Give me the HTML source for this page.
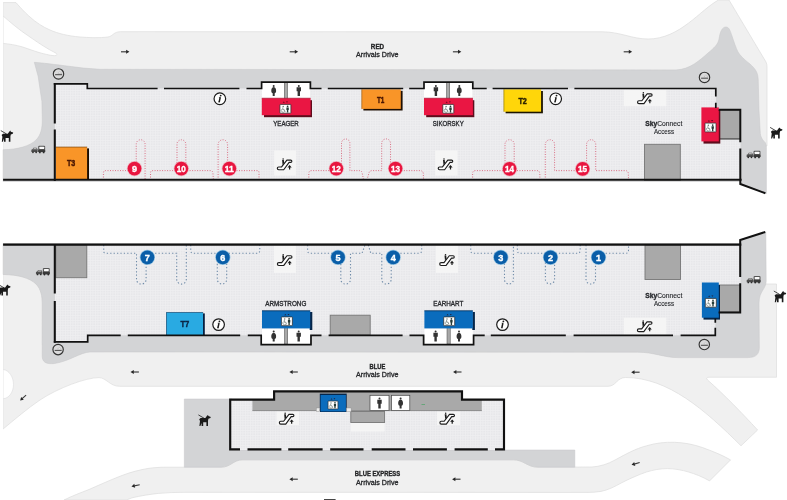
<!DOCTYPE html>
<html><head><meta charset="utf-8"><title>Baggage Claim Map</title>
<style>
html,body{margin:0;padding:0;background:#fff;}
body{width:787px;height:500px;overflow:hidden;}
svg{display:block;}
text{font-family:"Liberation Sans",sans-serif;}
text{filter:brightness(1);}
.b{font-weight:bold;}
</style></head><body>
<svg width="787" height="500" viewBox="0 0 787 500">
<defs>
<pattern id="grid" width="2.5" height="2.5" patternUnits="userSpaceOnUse">
<rect width="2.5" height="2.5" fill="#e7e7ea"/>
<path d="M0,0.45H2.5M0.45,0V2.5" stroke="#eeeef0" stroke-width="0.9" fill="none"/>
</pattern>
<g id="esc">
<path d="M-6,2.05H-3.1L2.2,-4.85H6A1.15,1.15 0 0 1 6,-2.55H4.4L-1,4.85H-6A1.4,1.4 0 0 1 -6,2.05Z" fill="#fff" stroke="#1c1c1c" stroke-width="1.15" stroke-linejoin="round"/>
<circle cx="-1.6" cy="-5.9" r="0.75" fill="#1c1c1c"/>
<path d="M-2.6,-5H-0.9L-0.5,-1.9L-2.1,0Z" fill="#1c1c1c"/>
<path d="M4.9,0.2L2.8,2.6H4.3V4.5H5.5V2.6H7Z" fill="#1c1c1c"/>
</g>
<g id="info">
<circle r="5.8" fill="#fff" stroke="#1a1a1a" stroke-width="1.2"/>
<circle cx="0.85" cy="-3.2" r="0.9" fill="#1a1a1a"/>
<path d="M0.4,-1.5L-0.7,3.4" stroke="#1a1a1a" stroke-width="1.5" stroke-linecap="butt"/>
<path d="M-0.9,-1.4H0.6M-1.6,3.3H0" stroke="#1a1a1a" stroke-width="0.55"/>
</g>
<g id="nosmoke">
<circle r="5.2" fill="#dadadb" stroke="#333" stroke-width="1.15"/>
<path d="M-3.4,0.8H3.6" stroke="#2e2e2e" stroke-width="0.85"/>
<path d="M-0.5,-0.4L1.2,-2.4L3.4,-0.4Z" fill="#eee" stroke="#999" stroke-width="0.35"/>
</g>
<g id="man">
<circle cx="0" cy="-4.6" r="1" fill="#333"/>
<path d="M-2.2,-3.3H2.2V0.7H1.2V5.5H-1.2V0.7H-2.2Z" fill="#333"/>
</g>
<g id="woman">
<circle cx="0" cy="-4.6" r="1" fill="#333"/>
<path d="M0,-3.4C2,-3.4 2.5,-1 2.4,0.8C2.3,2 1.6,2.8 1,2.8V5.5H-1V2.8C-1.6,2.8 -2.3,2 -2.4,0.8C-2.5,-1 -2,-3.4 0,-3.4Z" fill="#333"/>
</g>
<g id="elev">
<rect x="-5.5" y="-4.4" width="11" height="8.8" rx="0.5" fill="#fff" stroke="#2e2e2e" stroke-width="0.75"/>
<circle cx="2.2" cy="-2.4" r="0.85" fill="#263c38"/>
<path d="M1,-1.3H3.4V1.3H2.9V3.7H1.5V1.3H1Z" fill="#263c38"/>
<circle cx="-2.2" cy="-2.3" r="0.7" fill="#5d6d68"/>
<path d="M-2.6,-1.3V0.9H-1.1L-0.3,3.2" stroke="#5d6d68" stroke-width="0.7" fill="none"/>
<path d="M-3.6,0.4A1.8,1.8 0 1 0 -0.9,2.9" stroke="#5d6d68" stroke-width="0.6" fill="none"/>
<path d="M-2.6,-6L-1.6,-7.4L-0.6,-6Z M0.6,-7.4L1.6,-6L2.6,-7.4Z" fill="#2a0a10" opacity="0.8"/>
</g>
<g id="dog">
<path d="M-6.4,-5.6L-0.6,-2.2" stroke="#1a1a1a" stroke-width="0.8" fill="none"/>
<path d="M-5.6,-1.2L-4.2,-2.4H0.6L2.2,-4.8L3.2,-5.6L3.6,-4.4L6,-3.6L5.6,-2.4L3.6,-1.8L3.2,0.2V5.6H1.6V1.8H-1.6V5.6H-3.2V2.4L-4.4,5.6H-5.4L-4.8,0.6Z" fill="#1a1a1a"/>
</g>
<g id="car">
<path d="M-6.9,2.6V0.3L-5.7,-0.2L-4.7,-1.7H-1.7L-0.6,-0.2V2.6Z" fill="#4d4d4d"/>
<path d="M-4.4,-1.1H-2L-1.3,-0.1H-5.1Z" fill="#d8d8d8"/>
<path d="M0,2.7V-2.6Q0,-3.7 1.1,-3.7H5.8Q6.9,-3.7 6.9,-2.6V2.7Z" fill="#555"/>
<rect x="1.1" y="-2.7" width="4.8" height="2.3" rx="0.6" fill="#fafafa"/>
<path d="M0,0.4H6.9V2.7H0Z" fill="#3a3a3a"/>
<circle cx="-5.3" cy="2.9" r="0.85" fill="#2a2a2a"/><circle cx="-2.1" cy="2.9" r="0.85" fill="#2a2a2a"/>
<circle cx="1.6" cy="3" r="0.9" fill="#2a2a2a"/><circle cx="5.4" cy="3" r="0.9" fill="#2a2a2a"/>
</g>
<g id="arrL"><path d="M4.2,0H-1.4" stroke="#3a3a3a" stroke-width="1.15" fill="none"/><path d="M-4.2,0L-0.9,-2.05V2.05Z" fill="#262626"/></g>
</defs>

<g fill="#f0f0f0" stroke="#dcdcdd" stroke-width="0.7">
<path d="M3.1,2.6L16,2.6C22,9.5 26,13.5 30,17C36,22.5 43,27 50,30C58,33.5 68,36 80,37C88,37.6 100,38.2 108,37C113,36.2 113.5,31.7 120.5,31.7L602,31.8C620,31.8 632,39 648,39C680,39 700,10 718.5,0L729,0L766,62Q767,64 767,67L767,146L700,146L700,75L60,75L60,155L3.1,155Z"/>
<path d="M3.1,429C14,420 28,408 40,400C58,388 86,377.5 99,377.6C106,377.6 110,386.3 119.4,386.3L608,386.3C616,386.3 617,377.5 625.5,377.5C668,377.5 705,410 741,445.8L757.6,430C742,413 724,394.5 707.6,380Q705.2,377.4 709,377.2L776.5,377.2L776.5,284L764,284Q758.5,290 758.5,304L758.5,345L42.3,345L42.3,304C42.3,296 41,289 36,284C30,278 18,274.5 3.1,274.5Z"/>
<path d="M64,500C72,496 80,493 89,489.5C98,485.5 106,482 115.6,478C124,474.5 133,471.5 142,469.6C150,467.8 158,467.2 166,467.2L221,467.2C231,467.2 233,459.8 243,459.8L513,459.8C524,459.8 527,467.2 538,467.2L592,467C600,466.5 608,464 615,460C626,454 636,448.5 646.5,445.8C656,443 665,442 674.6,442.3C684,442.6 694,444.5 702.6,447.6C712,451 722,455 730.6,459.9L709.6,480.9C702,476.5 695,474 688.6,472C682,470 674,468.6 667.6,468.6C660,468.6 653,470 646.5,472C638,475 630,478.5 622,482.6C614,487 608,490 601,491.4C596,492.2 592,492.4 587,492.4L185,492.3C176,492.3 167,492.6 158.6,493.4C150,494.2 140,496 132,497.8L126.5,500Z"/>
</g>
<path d="M3.1,16C10,22 20,30.5 27.1,35C33,39.1 42,45.5 49.5,49.7C52,51 55,52.6 56.3,53.4Q58,54.6 56,55.5C53,56.2 45,54.2 39,52.5C33,50.6 27,48.5 22,46.8C16,45 9,44 3.1,43.4Z" fill="#fff" stroke="#dcdcdd" stroke-width="0.7"/>
<path d="M3.1,369.5C9,370 13.5,377 13.5,384.5C13.5,392 9,398.5 3.1,398.7Z" fill="#fff" stroke="#dcdcdd" stroke-width="0.6"/>
<rect x="0" y="0" width="3.1" height="500" fill="#fff"/>
<g fill="#d3d4d6" stroke="#c6c7c9" stroke-width="0.5">
<path d="M34.3,62.3C45,63 70,66.5 83.9,68.1L100,69.3L676,69.9C690,69.5 700,60 708,53C714,48 718,44.5 719,39C720,32 722,27 726,27C729.5,27 730.5,32 732,36C734,42 736,48 738,52C742,58 747,61.5 750,64C755,68.5 757.8,72 758.2,79L759,110L760.3,133.5C761,139 764,141 765.2,142.5C766,144 766.4,145.5 766.4,147.5L766.4,193.6L740.3,184L740.3,181.5L3.1,181.5L3.1,149.7C18,149.5 30,146 36,140C41,135 42.3,128 42.3,120L41.9,101.6L38.1,76.2Z"/>
<path d="M3.1,243.5L740.1,243.5L740.1,240L765.8,231.7L766.2,281C766.2,289 759,291 759,303L759.3,346C759.8,354 756,357.6 748,357.6L678,357.6C664,357.6 654,352.2 637.6,352.2L90,352C80,352.5 70,361 54.6,363.5C46,364.5 42.2,362 42.2,356L42.3,304C42.3,296 41,289 36,284C30,278 18,274.5 3.1,274.5Z"/>
<path d="M184.3,399H232V450H574.8V467.2H538C527,467.2 524,459.8 513,459.8H243C233,459.8 231,467.2 221,467.2H184.3Z"/>
</g>
<g fill="url(#grid)">
<path d="M55,84H87.3V88.5H715.8V109H740.5V181H55Z"/>
<path d="M55,244H740.5V313H715.3V335.3H87.7V341.8H55Z"/>
<path d="M230,399H273.8V391.3H462V399.6H504V449.5H230Z"/>
</g>
<g fill="#f5f5f5">
<rect x="274.2" y="150.5" width="22" height="25"/>
<rect x="435.2" y="150.5" width="22.3" height="25"/>
<rect x="623.8" y="89.8" width="42.6" height="16.5"/>
<rect x="274" y="245.5" width="22" height="27.4"/>
<rect x="436" y="245.5" width="22" height="27.4"/>
<rect x="623.8" y="317.7" width="42.6" height="17"/>
<rect x="437" y="411.5" width="23" height="13.5"/>
<rect x="276.5" y="411.5" width="22.5" height="13.5"/>
<rect x="350.8" y="422.5" width="33.8" height="9"/>
</g>
<rect x="644.5" y="144.3" width="35.8" height="36" fill="#a9a9a9" stroke="#777" stroke-width="0.9"/>
<rect x="719" y="110" width="21.5" height="28.8" fill="#a9a9a9" stroke="#777" stroke-width="0.9"/>
<path d="M719,139H741" stroke="#333" stroke-width="0.8"/>
<rect x="55.8" y="245" width="31" height="32.7" fill="#a9a9a9" stroke="#777" stroke-width="0.9"/>
<rect x="645" y="245" width="35.5" height="34.5" fill="#a9a9a9" stroke="#777" stroke-width="0.9"/>
<rect x="718.6" y="285" width="21.6" height="27" fill="#a9a9a9" stroke="#777" stroke-width="0.9"/>
<rect x="330.2" y="315.2" width="40" height="19.7" fill="#a9a9a9" stroke="#777" stroke-width="0.9"/>
<path d="M252.4,400H273.8V392H462V400H481.8V410.6H252.4Z" fill="#a9a9a9"/>
<path d="M252.4,410.6H481.8" stroke="#777" stroke-width="0.8"/>
<rect x="350.8" y="411.5" width="33.8" height="11" fill="#a9a9a9" stroke="#777" stroke-width="0.9"/>
<rect x="87" y="148.4" width="2" height="31.5" fill="#1a0d02"/>
<rect x="55.8" y="146.9" width="31.3" height="33" fill="#f99528"/>
<path d="M55.8,147.1H87.2" stroke="#6a3f10" stroke-width="0.6"/>
<rect x="363.4" y="90.8" width="39.2" height="19.7" fill="#1f0f03"/>
<rect x="361.6" y="89.3" width="39.2" height="19.6" fill="#f99528"/>
<path d="M361.8,89.3V108.9" stroke="#7a4a12" stroke-width="0.5"/>
<rect x="505.6" y="91" width="37.3" height="22.3" fill="#1c1500"/>
<rect x="503.7" y="89.3" width="37.4" height="22.4" fill="#ffd60a"/>
<path d="M503.9,89.3V111.7" stroke="#6a5800" stroke-width="0.5"/>
<rect x="168" y="313.4" width="36.8" height="21.6" fill="#082040"/>
<rect x="166.3" y="312.4" width="36.7" height="22.6" fill="#29aae2"/>
<path d="M166.3,312.5H203.2M166.5,312.4V335" stroke="#0d3a63" stroke-width="0.6"/>
<rect x="261.8" y="82.6" width="48.19999999999999" height="15.6" fill="#fff"/>
<rect x="284.29999999999995" y="82.6" width="3.2" height="17.5" fill="#a8a8a8" stroke="#444" stroke-width="0.5"/>
<rect x="264.0" y="100.2" width="47.999999999999986" height="17" fill="#5e0c1c"/>
<rect x="261.8" y="98.2" width="48.79999999999999" height="17" fill="#ea1643"/>
<path d="M261.8,98.2H310.6" stroke="#9a1a30" stroke-width="0.6"/>
<use href="#woman" x="273.7" y="90.5"/>
<use href="#man" x="298.8" y="90.5"/>
<use href="#elev" x="285.4" y="108.8"/>
<rect x="424" y="82.6" width="48.30000000000001" height="15.6" fill="#fff"/>
<rect x="446.54999999999995" y="82.6" width="3.2" height="17.5" fill="#a8a8a8" stroke="#444" stroke-width="0.5"/>
<rect x="426.2" y="100.2" width="48.10000000000001" height="17" fill="#5e0c1c"/>
<rect x="424" y="98.2" width="48.90000000000001" height="17" fill="#ea1643"/>
<path d="M424,98.2H472.90000000000003" stroke="#9a1a30" stroke-width="0.6"/>
<use href="#man" x="435.9" y="90.5"/>
<use href="#woman" x="459.3" y="90.5"/>
<use href="#elev" x="448.3" y="108.8"/>
<rect x="262" y="328.4" width="48.19999999999999" height="16" fill="#fff"/>
<rect x="284.5" y="325.5" width="3.2" height="18.6" fill="#a8a8a8" stroke="#444" stroke-width="0.5"/>
<rect x="309.7" y="312" width="2.6" height="18" fill="#06264a"/>
<rect x="262" y="310.6" width="48.19999999999999" height="17.8" fill="#0a6cbd"/>
<path d="M262,310.8H310.2" stroke="#06264a" stroke-width="0.7"/>
<use href="#woman" x="273.7" y="336.1"/>
<use href="#man" x="298.7" y="336.1"/>
<use href="#elev" x="286.9" y="321.3"/>
<rect x="424.4" y="328.4" width="48.400000000000034" height="16" fill="#fff"/>
<rect x="447.0" y="325.5" width="3.2" height="18.6" fill="#a8a8a8" stroke="#444" stroke-width="0.5"/>
<rect x="472.3" y="312" width="2.6" height="18" fill="#06264a"/>
<rect x="424.4" y="310.6" width="48.400000000000034" height="17.8" fill="#0a6cbd"/>
<path d="M424.4,310.8H472.8" stroke="#06264a" stroke-width="0.7"/>
<use href="#man" x="435.6" y="336.1"/>
<use href="#woman" x="459" y="336.1"/>
<use href="#elev" x="449.2" y="321.3"/>
<rect x="703.5" y="110" width="16.8" height="33.6" fill="#5e0c1c"/>
<rect x="701.4" y="107.4" width="17.4" height="34" fill="#ea1643"/>
<use href="#elev" x="710.5" y="127.5"/>
<rect x="703.5" y="285" width="16.5" height="34.6" fill="#06264a"/>
<rect x="701.9" y="282.5" width="16.9" height="35.2" fill="#0a6cbd"/>
<use href="#elev" x="710.8" y="302.8"/>
<rect x="319.8" y="393.6" width="26.9" height="18.4" fill="#06264a"/>
<rect x="320.6" y="395" width="25.3" height="16.4" fill="#0a6cbd"/>
<rect x="316.3" y="408" width="3.4" height="3.6" fill="#eee" stroke="#8a8a8a" stroke-width="0.4"/>
<rect x="346.5" y="408" width="4.6" height="3.6" fill="#eee" stroke="#8a8a8a" stroke-width="0.4"/>
<g transform="translate(333,405) scale(0.9)"><use href="#elev"/></g>
<rect x="370" y="395.3" width="19" height="15.3" fill="#fff" stroke="#444" stroke-width="0.7"/>
<rect x="391.5" y="395.3" width="18.3" height="15.3" fill="#fff" stroke="#444" stroke-width="0.7"/>
<use href="#man" x="379.5" y="403"/>
<use href="#woman" x="400.6" y="403"/>
<path d="M421.5,404.5H425" stroke="#3aa35a" stroke-width="0.6"/>
<g fill="none" stroke="#d4506a" stroke-width="1" stroke-dasharray="1 1.5" stroke-opacity="0.8">
<path d="M103.4,180V173Q103.4,170.6 105.8,170.6H136.2V144.2A4.45,4.45 0 0 1 145.1,144.2V180"/>
<path d="M150.5,180V173Q150.5,170.6 152.9,170.6H177V144.2A4.4,4.4 0 0 1 185.8,144.2V170.6H210.4Q212.6,170.6 212.9,172.8L213.4,180"/>
<path d="M218.1,180V144.5A4.75,4.75 0 0 1 227.6,144.5V170.6H257Q259,170.6 259,172.7V180"/>
<path d="M308.8,180V173.6Q308.8,170.6 311.8,170.6H341.5V143.2A4.2,4.2 0 0 1 349.9,143.2V170.6H359.5Q361.6,170.6 362.2,173L363.6,180"/>
<path d="M367,180L368.8,173.4Q369.6,170.6 372,170.6H381.7V143.3A4.4,4.4 0 0 1 390.5,143.3V170.6H420Q423,170.6 423.3,173.6L423.5,180"/>
<path d="M472.6,180V173.6Q472.6,170.6 475.6,170.6H505V144.3A4.6,4.6 0 0 1 514.2,144.3V170.6H537Q539.5,170.6 539.8,173.5L540,180"/>
<path d="M545.3,180V144.4A4.65,4.65 0 0 1 554.6,144.4V170.6H586.6V144.3A4.55,4.55 0 0 1 595.7,144.3V170.6H625.4Q628,170.6 628.3,173.4L628.5,180"/>
</g>
<g fill="none" stroke="#6f8ba8" stroke-width="1.1" stroke-dasharray="1.3 2.1">
<path d="M103.7,245V251.3Q103.7,253.3 105.7,253.3H136.5V279.3A4.8,4.8 0 0 0 146.1,279.3V253.3H176.7V279.3A4.8,4.8 0 0 0 186.3,279.3V245"/>
<path d="M190.7,245V250.3Q190.7,253.3 193.7,253.3H217.3V279.3A4.7,4.7 0 0 0 226.7,279.3V253.3H256.8Q259.8,253.3 259.8,250.3V245"/>
<path d="M307.6,245V250.3Q307.6,253.3 310.6,253.3H340.8V279.3A4.85,4.85 0 0 0 350.5,279.3V253.3H362L365,245"/>
<path d="M368.3,245L370.8,253.3H381.8V279.3A4.7,4.7 0 0 0 391.2,279.3V253.3H418.7Q421.7,253.3 421.7,250.3V245"/>
<path d="M470.7,245V250.3Q470.7,253.3 473.7,253.3H504.5V279.6A4.45,4.45 0 0 0 513.4,279.6V245"/>
<path d="M517.4,245V250.3Q517.4,253.3 520.4,253.3H545.4V279.3A4.6,4.6 0 0 0 554.6,279.3V253.3H577.2Q580.2,253.3 580.2,250.3V245"/>
<path d="M586,245V279.3A4.75,4.75 0 0 0 595.5,279.3V253.3H625.5Q628.5,253.3 628.5,250.3V245"/>
</g>
<circle cx="134.5" cy="168.6" r="7.6" fill="#f08a9d" opacity="0.55"/>
<circle cx="134.5" cy="168.6" r="6.9" fill="#e8153f"/>
<text x="134.5" y="171.79999999999998" text-anchor="middle" font-size="9.1" class="b" fill="#fff" stroke="#fff" stroke-width="0.35">9</text>
<circle cx="181.3" cy="168.6" r="7.6" fill="#f08a9d" opacity="0.55"/>
<circle cx="181.3" cy="168.6" r="6.9" fill="#e8153f"/>
<text x="181.3" y="171.79999999999998" text-anchor="middle" font-size="8.7" class="b" fill="#fff" stroke="#fff" stroke-width="0.35" textLength="9" lengthAdjust="spacingAndGlyphs">10</text>
<circle cx="229.3" cy="168.6" r="7.6" fill="#f08a9d" opacity="0.55"/>
<circle cx="229.3" cy="168.6" r="6.9" fill="#e8153f"/>
<text x="229.3" y="171.79999999999998" text-anchor="middle" font-size="8.7" class="b" fill="#fff" stroke="#fff" stroke-width="0.35" textLength="9" lengthAdjust="spacingAndGlyphs">11</text>
<circle cx="336.3" cy="168.6" r="7.6" fill="#f08a9d" opacity="0.55"/>
<circle cx="336.3" cy="168.6" r="6.9" fill="#e8153f"/>
<text x="336.3" y="171.79999999999998" text-anchor="middle" font-size="8.7" class="b" fill="#fff" stroke="#fff" stroke-width="0.35" textLength="9" lengthAdjust="spacingAndGlyphs">12</text>
<circle cx="395.5" cy="168.6" r="7.6" fill="#f08a9d" opacity="0.55"/>
<circle cx="395.5" cy="168.6" r="6.9" fill="#e8153f"/>
<text x="395.5" y="171.79999999999998" text-anchor="middle" font-size="8.7" class="b" fill="#fff" stroke="#fff" stroke-width="0.35" textLength="9" lengthAdjust="spacingAndGlyphs">13</text>
<circle cx="509.6" cy="168.8" r="7.6" fill="#f08a9d" opacity="0.55"/>
<circle cx="509.6" cy="168.8" r="6.9" fill="#e8153f"/>
<text x="509.6" y="172.0" text-anchor="middle" font-size="8.7" class="b" fill="#fff" stroke="#fff" stroke-width="0.35" textLength="9" lengthAdjust="spacingAndGlyphs">14</text>
<circle cx="582.6" cy="168.8" r="7.6" fill="#f08a9d" opacity="0.55"/>
<circle cx="582.6" cy="168.8" r="6.9" fill="#e8153f"/>
<text x="582.6" y="172.0" text-anchor="middle" font-size="8.7" class="b" fill="#fff" stroke="#fff" stroke-width="0.35" textLength="9" lengthAdjust="spacingAndGlyphs">15</text>
<circle cx="147.4" cy="257.4" r="7.6" fill="#3f9ad6" opacity="0.55"/>
<circle cx="147.4" cy="257.4" r="6.9" fill="#0a5ea8"/>
<text x="147.4" y="260.59999999999997" text-anchor="middle" font-size="9.1" class="b" fill="#fff" stroke="#fff" stroke-width="0.35">7</text>
<circle cx="222.8" cy="257.4" r="7.6" fill="#3f9ad6" opacity="0.55"/>
<circle cx="222.8" cy="257.4" r="6.9" fill="#0a5ea8"/>
<text x="222.8" y="260.59999999999997" text-anchor="middle" font-size="9.1" class="b" fill="#fff" stroke="#fff" stroke-width="0.35">6</text>
<circle cx="338" cy="257.4" r="7.6" fill="#3f9ad6" opacity="0.55"/>
<circle cx="338" cy="257.4" r="6.9" fill="#0a5ea8"/>
<text x="338" y="260.59999999999997" text-anchor="middle" font-size="9.1" class="b" fill="#fff" stroke="#fff" stroke-width="0.35">5</text>
<circle cx="393.2" cy="257.4" r="7.6" fill="#3f9ad6" opacity="0.55"/>
<circle cx="393.2" cy="257.4" r="6.9" fill="#0a5ea8"/>
<text x="393.2" y="260.59999999999997" text-anchor="middle" font-size="9.1" class="b" fill="#fff" stroke="#fff" stroke-width="0.35">4</text>
<circle cx="500.8" cy="257.4" r="7.6" fill="#3f9ad6" opacity="0.55"/>
<circle cx="500.8" cy="257.4" r="6.9" fill="#0a5ea8"/>
<text x="500.8" y="260.59999999999997" text-anchor="middle" font-size="9.1" class="b" fill="#fff" stroke="#fff" stroke-width="0.35">3</text>
<circle cx="550.5" cy="257.4" r="7.6" fill="#3f9ad6" opacity="0.55"/>
<circle cx="550.5" cy="257.4" r="6.9" fill="#0a5ea8"/>
<text x="550.5" y="260.59999999999997" text-anchor="middle" font-size="9.1" class="b" fill="#fff" stroke="#fff" stroke-width="0.35">2</text>
<circle cx="598.5" cy="257.4" r="7.6" fill="#3f9ad6" opacity="0.55"/>
<circle cx="598.5" cy="257.4" r="6.9" fill="#0a5ea8"/>
<text x="598.5" y="260.59999999999997" text-anchor="middle" font-size="9.1" class="b" fill="#fff" stroke="#fff" stroke-width="0.35">1</text>
<g fill="none" stroke="#111" stroke-width="1.7" stroke-linejoin="miter" stroke-linecap="butt">
<path stroke-width="2.05" d="M54.8,181V129.6M54.8,123.5V83"/>
<path d="M53.8,83.8H87.3V88.5H157.6M164,88.5H239.4M246.5,88.5H261.6V82.2H310.4V88.5H321.5M327.8,88.5H403.2M409.2,88.5H424V82.2H472.8V88.5H486.7M492.6,88.5H568M574.4,88.5H715.8V96.4M715.8,102.8V108"/>
<path stroke-width="2" d="M718.6,109.7H740.3V142.2M740.3,148.5V184L765.4,193.3"/>
<path stroke-width="2.05" d="M54.8,244V293.6M54.8,301V342.8"/>
<path d="M53.8,341.8H87.7V335.4H120.7M127.8,335.4H240.2M247.8,335.4H261.2V344.6H311V335.4H321.5M328.6,335.4H402.6M409.5,335.4H423.6V344.6H473.6V335.4H484.7M490.8,335.4H565.8M573.6,335.4H673M680.6,335.4H715.3V327.8M715.3,322.7V318.5"/>
<path stroke-width="2" d="M765.2,232L740.2,240V277M740.2,283.3V312.4H718.6"/>
<path stroke-width="2.15" d="M240,449.4H230.2V399.6H274.1V391.4H462V399.6H504V449.4H495M247.5,449.4H281.4M288.2,449.4H322.6M330.2,449.4H363.5M371.7,449.4H405.5M413,449.4H446.9M454.6,449.4H487.8"/>
</g>
<path d="M3.1,179.8H741.6" stroke="#111" stroke-width="2"/>
<path d="M3.1,244.6H741.3" stroke="#111" stroke-width="2.1"/>
<use href="#esc" x="284.7" y="164.9"/>
<use href="#esc" x="445.6" y="164.9"/>
<use href="#esc" x="644.95" y="98.7"/>
<use href="#esc" x="284.8" y="260.6"/>
<use href="#esc" x="447.1" y="260.6"/>
<use href="#esc" x="644.8" y="326.8"/>
<use href="#esc" x="286.75" y="419.2"/>
<use href="#esc" x="447.3" y="419.2"/>
<use href="#info" x="219.85" y="98.75"/>
<use href="#info" x="555.7" y="98.8"/>
<use href="#info" x="218.6" y="324.6"/>
<use href="#info" x="502.5" y="324.6"/>
<use href="#nosmoke" x="58.5" y="73.9"/>
<use href="#nosmoke" x="704.5" y="77.4"/>
<use href="#nosmoke" x="58.1" y="349.6"/>
<use href="#nosmoke" x="704.3" y="344.5"/>
<use href="#dog" x="7.2" y="136.2"/>
<use href="#dog" x="776.5" y="133"/>
<use href="#dog" x="4.6" y="290"/>
<use href="#dog" x="780.2" y="296.6"/>
<use href="#dog" x="204.8" y="420.5"/>
<use href="#car" x="38.25" y="149.4"/>
<use href="#car" x="753.55" y="154.4"/>
<use href="#car" x="42.85" y="271.6"/>
<use href="#car" x="753.6" y="279.6"/>
<use href="#arrL" x="134.7" y="372"/>
<use href="#arrL" x="293.6" y="372"/>
<use href="#arrL" x="457.3" y="372"/>
<use href="#arrL" x="635.4" y="372.2"/>
<use href="#arrL" x="293.6" y="479.2"/>
<use href="#arrL" x="456.3" y="479.2"/>
<g transform="translate(125.2,51.8) rotate(180)"><use href="#arrL"/></g>
<g transform="translate(293.9,51.8) rotate(180)"><use href="#arrL"/></g>
<g transform="translate(457.1,51.8) rotate(180)"><use href="#arrL"/></g>
<g transform="translate(627.9,51.8) rotate(180)"><use href="#arrL"/></g>
<g transform="translate(23.1,397.8) rotate(-42) scale(0.95)"><use href="#arrL"/></g>
<g transform="translate(135.6,485.6) rotate(-11)"><use href="#arrL"/></g>
<g transform="translate(635.6,463.7) rotate(-16)"><use href="#arrL"/></g>
<g fill="#26282c" text-anchor="middle" stroke="#26282c" stroke-width="0.3">
<text x="377.5" y="48.8" font-size="6.3" class="b" fill="#222">RED</text>
<text x="377.3" y="57" font-size="7" textLength="42.4" lengthAdjust="spacingAndGlyphs" fill="#2a2a2a">Arrivals Drive</text>
<text x="377.4" y="368.6" font-size="6.3" class="b" fill="#222" textLength="15.8" lengthAdjust="spacingAndGlyphs">BLUE</text>
<text x="377.3" y="377" font-size="7" textLength="42.4" lengthAdjust="spacingAndGlyphs" fill="#2a2a2a">Arrivals Drive</text>
<text x="377.5" y="476.3" font-size="6.3" class="b" fill="#222" textLength="45.3" lengthAdjust="spacingAndGlyphs">BLUE EXPRESS</text>
<text x="377.3" y="484.6" font-size="7" textLength="42.4" lengthAdjust="spacingAndGlyphs" fill="#2a2a2a">Arrivals Drive</text>
<text x="286" y="126.2" font-size="6.6" textLength="25.6" lengthAdjust="spacingAndGlyphs">YEAGER</text>
<text x="448.2" y="126.2" font-size="6.6" textLength="31" lengthAdjust="spacingAndGlyphs">SIKORSKY</text>
<text x="285.8" y="305.7" font-size="6.6" textLength="41" lengthAdjust="spacingAndGlyphs">ARMSTRONG</text>
<text x="448.3" y="305.7" font-size="6.6" textLength="30" lengthAdjust="spacingAndGlyphs">EARHART</text>
<text x="663.8" y="126" font-size="6.7" stroke-width="0.12" textLength="37" lengthAdjust="spacingAndGlyphs"><tspan class="b" stroke-width="0.3">Sky</tspan>Connect</text>
<text x="664" y="133.9" font-size="6.7" stroke-width="0.12" textLength="20.2" lengthAdjust="spacingAndGlyphs">Access</text>
<text x="663.8" y="298.4" font-size="6.7" stroke-width="0.12" textLength="37" lengthAdjust="spacingAndGlyphs"><tspan class="b" stroke-width="0.3">Sky</tspan>Connect</text>
<text x="664" y="306.4" font-size="6.7" stroke-width="0.12" textLength="20.2" lengthAdjust="spacingAndGlyphs">Access</text>
</g>
<g text-anchor="middle" class="b" font-size="8.4" lengthAdjust="spacingAndGlyphs">
<text x="71.1" y="166.3" fill="#4a1602" stroke="#4a1602" stroke-width="0.45" class="b" textLength="8.3" lengthAdjust="spacingAndGlyphs">T3</text>
<text x="380.6" y="103.1" fill="#4a1602" stroke="#4a1602" stroke-width="0.45" class="b" textLength="7.4" lengthAdjust="spacingAndGlyphs">T1</text>
<text x="522.6" y="104.4" fill="#2e2400" stroke="#2e2400" stroke-width="0.45" class="b" textLength="8.4" lengthAdjust="spacingAndGlyphs">T2</text>
<text x="184.9" y="327.3" fill="#0a2747" stroke="#0a2747" stroke-width="0.45" class="b" textLength="8.8" lengthAdjust="spacingAndGlyphs">T7</text>
</g>
<path d="M324,499.6H335.6" stroke="#333" stroke-width="1"/>
</svg></body></html>
